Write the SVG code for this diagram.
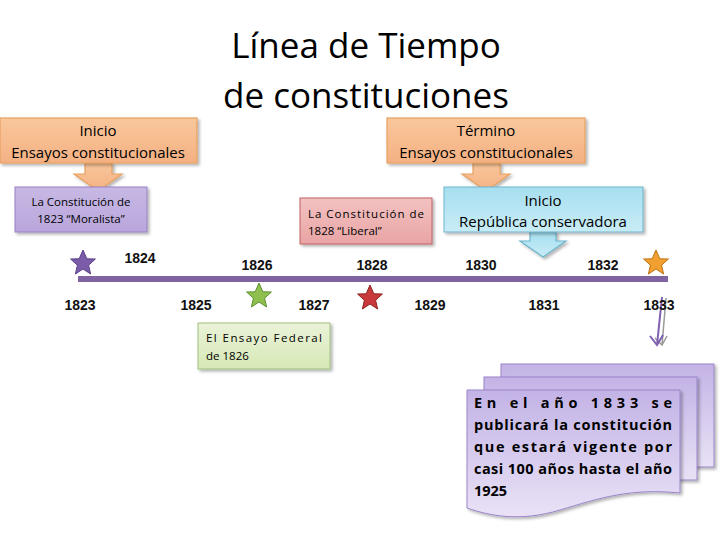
<svg xmlns="http://www.w3.org/2000/svg" width="728" height="546" viewBox="0 0 728 546">
<defs>
<style>
.t{font-family:"Open Sans","Liberation Sans",sans-serif;fill:#000}
.y{font-family:"Liberation Sans",Arial,sans-serif;font-weight:bold;font-size:14px;text-anchor:middle;fill:#111}
.or{fill:url(#go);stroke:#e8a060;stroke-width:1.2}
.sh{filter:url(#ds)}
</style>
<linearGradient id="go" x1="0" y1="0" x2="0" y2="1"><stop offset="0" stop-color="#f9c79c"/><stop offset="1" stop-color="#f4b183"/></linearGradient>
<linearGradient id="gp" x1="0" y1="0" x2="0" y2="1"><stop offset="0" stop-color="#c7b8e4"/><stop offset="1" stop-color="#b9a6dc"/></linearGradient>
<linearGradient id="gb" x1="0" y1="0" x2="0" y2="1"><stop offset="0" stop-color="#a6dff0"/><stop offset="1" stop-color="#c8ecf6"/></linearGradient>
<linearGradient id="gr" x1="0" y1="0" x2="0" y2="1"><stop offset="0" stop-color="#f3c2c2"/><stop offset="1" stop-color="#e9a4a4"/></linearGradient>
<linearGradient id="gg" x1="0" y1="0" x2="0" y2="1"><stop offset="0" stop-color="#eaf3d8"/><stop offset="1" stop-color="#d6e8b6"/></linearGradient>
<linearGradient id="gd" x1="0" y1="0" x2="0" y2="1"><stop offset="0" stop-color="#c3b3e6"/><stop offset="1" stop-color="#e9e2f6"/></linearGradient>
<filter id="ds" x="-10%" y="-10%" width="130%" height="130%"><feDropShadow dx="2" dy="2" stdDeviation="1.5" flood-color="#000" flood-opacity="0.3"/></filter>
<polygon id="star" points="0,-13 3.8,-4.2 12.4,-4 5.6,2.2 7.6,11 0,6 -7.6,11 -5.6,2.2 -12.4,-4 -3.8,-4.2"/>
</defs>
<rect width="728" height="546" fill="#fff"/>
<g id="title" class="t" font-size="35" text-anchor="middle"><text x="366" y="58">Línea de Tiempo</text><text x="366" y="108">de constituciones</text></g>
<g id="connectors">
<polygon class="or sh" points="85,163 112,163 112,174 122,174 98,191 74,174 85,174"/>
<polygon class="or sh" points="473,163 500,163 500,174 510,174 486,191 462,174 473,174"/>
<polygon fill="url(#gb)" stroke="#6fb4cc" stroke-width="1.2" class="sh" points="530,232 556,232 556,241 566,241 543,257 520,241 530,241"/>
<line x1="666" y1="298" x2="662" y2="345" stroke="#999" stroke-width="1.5"/>
<polyline points="667,336 662,345 655,338" fill="none" stroke="#999" stroke-width="1.5"/>
<line x1="662" y1="297" x2="657" y2="345" stroke="#7f5fb0" stroke-width="2"/>
<polyline points="663,335 657,345 650,336" fill="none" stroke="#7f5fb0" stroke-width="2"/>
</g>
<g id="n-inicio1"><rect class="or sh" x="0" y="118" width="197" height="45"/><text class="t" font-size="15" text-anchor="middle" x="98" y="136">Inicio</text><text class="t" font-size="15" text-anchor="middle" x="98" y="158">Ensayos constitucionales</text></g>
<g id="n-termino"><rect class="or sh" x="387" y="118" width="198" height="45"/><text class="t" font-size="15" text-anchor="middle" x="486" y="136">Término</text><text class="t" font-size="15" text-anchor="middle" x="486" y="158">Ensayos constitucionales</text></g>
<g id="n-moralista"><rect class="sh" x="15" y="187" width="132" height="45" fill="url(#gp)" stroke="#9880c4"/><text class="t" font-size="11.5" text-anchor="middle" x="81" y="206">La Constitución de</text><text class="t" font-size="11.5" text-anchor="middle" x="81" y="223">1823  “Moralista”</text></g>
<g id="n-republica"><rect class="sh" x="444" y="187" width="199" height="45" fill="url(#gb)" stroke="#6fb4cc"/><text class="t" font-size="15" text-anchor="middle" x="543" y="206">Inicio</text><text class="t" font-size="15" text-anchor="middle" x="543" y="227">República conservadora</text></g>
<g id="n-liberal"><rect class="sh" x="300" y="198" width="132" height="46" fill="url(#gr)" stroke="#c06060"/><text class="t" font-size="11.5" x="308" y="218" textLength="116" lengthAdjust="spacing">La  Constitución  de</text><text class="t" font-size="11.5" x="308" y="235">1828  “Liberal”</text></g>
<g id="n-federal"><rect class="sh" x="198" y="323" width="132" height="46" fill="url(#gg)" stroke="#a0c080"/><text class="t" font-size="11.5" x="206" y="342" textLength="116" lengthAdjust="spacing">El   Ensayo   Federal</text><text class="t" font-size="11.5" x="206" y="360">de 1826</text></g>
<g id="timeline">
<rect x="78" y="276" width="590" height="6" fill="#8064a2"/>
<text class="y" x="140" y="263">1824</text><text class="y" x="257" y="270">1826</text><text class="y" x="372" y="270">1828</text><text class="y" x="481" y="270">1830</text><text class="y" x="603" y="270">1832</text>
<text class="y" x="80" y="310">1823</text><text class="y" x="196" y="310">1825</text><text class="y" x="314" y="310">1827</text><text class="y" x="430" y="310">1829</text><text class="y" x="544" y="310">1831</text><text class="y" x="659" y="310">1833</text>
<use href="#star" x="83" y="263" fill="#7a5ca8" stroke="#5a3f88"/>
<use href="#star" x="259" y="296" fill="#8fbf4f" stroke="#5f8f2f"/>
<use href="#star" x="370" y="298" fill="#c8393b" stroke="#902020"/>
<use href="#star" x="656" y="263" fill="#f0a030" stroke="#c07010"/>
</g>
<g id="n-doc">
<rect class="sh" x="501" y="364" width="213" height="103" fill="url(#gd)" stroke="#9a84c8"/>
<rect class="sh" x="484" y="377" width="213" height="103" fill="url(#gd)" stroke="#9a84c8"/>
<path class="sh" d="M467,390 H680 V493 C630,488 600,498 560,510 C520,522 490,516 467,508 Z" fill="url(#gd)" stroke="#9a84c8"/>
<g class="t" font-size="14.5" font-weight="bold">
<text x="474" y="408" textLength="198" lengthAdjust="spacing">En    el    año    1833    se</text>
<text x="474" y="430" textLength="198" lengthAdjust="spacing">publicará la constitución</text>
<text x="474" y="452" textLength="198" lengthAdjust="spacing">que  estará  vigente  por</text>
<text x="474" y="474" textLength="198" lengthAdjust="spacing">casi 100 años hasta el año</text>
<text x="474" y="496">1925</text>
</g>
</g>
</svg>
